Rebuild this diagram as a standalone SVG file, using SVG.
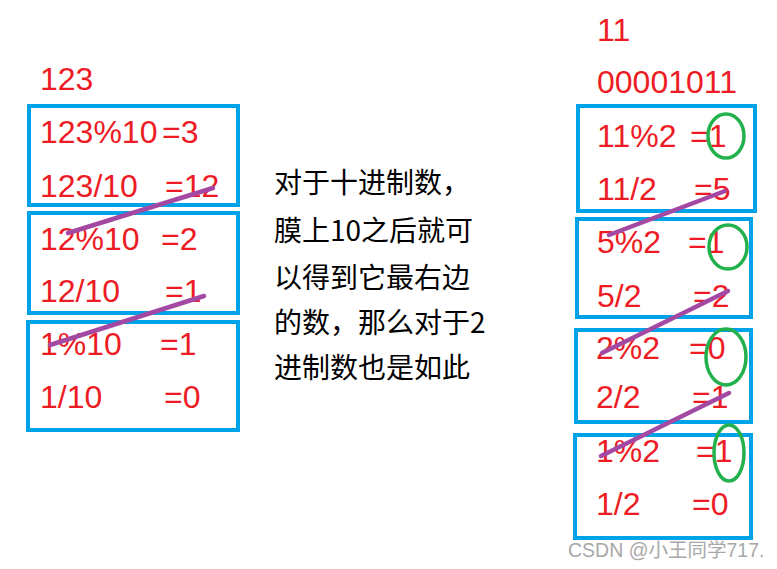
<svg xmlns="http://www.w3.org/2000/svg" width="777" height="569" viewBox="0 0 777 569">
<style>
.r{font-family:"Liberation Sans","Noto Sans CJK SC",sans-serif;font-size:32px;fill:#ED1C24}
.t{font-family:"Noto Sans CJK SC","Liberation Sans",sans-serif;font-size:28px;fill:#000}
.box{fill:none;stroke:#00A2E8;stroke-width:4}
.ln{stroke:#A349A4;stroke-width:4.5;stroke-linecap:round;fill:none}
.ov{fill:none;stroke:#22B14C;stroke-width:3.5}
.wm{font-family:"Liberation Sans","Noto Sans CJK SC",sans-serif;font-size:19.5px;fill:#a8a8a8}
</style>
<rect width="777" height="569" fill="#fff"/>
<g id="left">
<text class="r" x="40" y="90">123</text>
<g id="lbox1"><rect class="box" x="29" y="106" width="209" height="99"/>
<text class="r" x="40" y="143">123%10</text><text class="r" x="162" y="143">=3</text>
<text class="r" x="40" y="197">123/10</text><text class="r" x="165" y="197">=12</text></g>
<g id="lbox2"><rect class="box" x="29" y="213" width="209" height="100"/>
<text class="r" x="40" y="250">12%10</text><text class="r" x="161" y="250">=2</text>
<text class="r" x="40" y="302">12/10</text><text class="r" x="165" y="302">=1</text></g>
<g id="lbox3"><rect class="box" x="28" y="322" width="210" height="108"/>
<text class="r" x="40" y="355">1%10</text><text class="r" x="160" y="355">=1</text>
<text class="r" x="40" y="408">1/10</text><text class="r" x="164" y="408">=0</text></g>
</g>
<g id="note">
<text class="t" x="274" y="193">对于十进制数，</text>
<text class="t" x="274" y="241">膜上10之后就可</text>
<text class="t" x="274" y="288">以得到它最右边</text>
<text class="t" x="274" y="333">的数，那么对于2</text>
<text class="t" x="274" y="378">进制数也是如此</text>
</g>
<g id="right">
<text class="r" x="597" y="41">11</text>
<text class="r" x="597" y="93">00001011</text>
<g id="rbox1"><rect class="box" x="578" y="106" width="177" height="105"/>
<text class="r" x="597" y="147">11%2</text><text class="r" x="690" y="147">=1</text>
<text class="r" x="597" y="200">11/2</text><text class="r" x="694" y="200">=5</text>
<ellipse class="ov" cx="726" cy="136" rx="18" ry="22"/></g>
<g id="rbox2"><rect class="box" x="577" y="219" width="174" height="98"/>
<text class="r" x="597" y="253">5%2</text><text class="r" x="688" y="253">=1</text>
<text class="r" x="597" y="307">5/2</text><text class="r" x="693" y="307">=2</text>
<ellipse class="ov" cx="728" cy="247" rx="19" ry="22"/></g>
<g id="rbox3"><rect class="box" x="576" y="330" width="175" height="92"/>
<text class="r" x="596" y="359">2%2</text><text class="r" x="689" y="359">=0</text>
<text class="r" x="596" y="408">2/2</text><text class="r" x="692" y="408">=1</text>
<ellipse class="ov" cx="726" cy="357" rx="20" ry="28"/></g>
<g id="rbox4"><rect class="box" x="575" y="435" width="176" height="103"/>
<text class="r" x="596" y="462">1%2</text><text class="r" x="696" y="462">=1</text>
<text class="r" x="596" y="515">1/2</text><text class="r" x="692" y="515">=0</text>
<ellipse class="ov" cx="729" cy="453" rx="15" ry="28"/></g>
</g>
<g id="connectors">
<line class="ln" x1="68" y1="233" x2="213" y2="188"/>
<line class="ln" x1="50" y1="345" x2="204" y2="296"/>
<line class="ln" x1="609" y1="235" x2="725" y2="191"/>
<line class="ln" x1="602" y1="353" x2="728" y2="291"/>
<line class="ln" x1="601" y1="456" x2="729" y2="393"/>
</g>
<text class="wm" x="568" y="557">CSDN @小王同学717.</text>
</svg>
